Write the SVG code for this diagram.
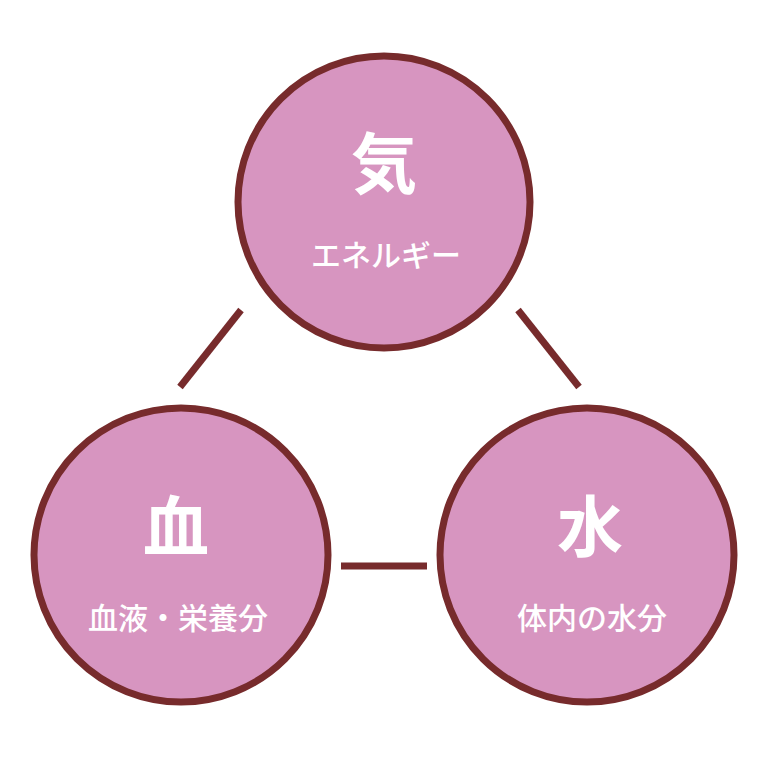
<svg xmlns="http://www.w3.org/2000/svg" width="768" height="768" viewBox="0 0 768 768">
<style>
.c{fill:#d795c0;stroke:#772b2c;stroke-width:7}
.l{stroke:#772b2c;stroke-width:7;stroke-linecap:butt}
.t{font-family:"Noto Sans CJK JP",sans-serif;fill:#fff;text-anchor:middle;font-weight:bold;font-size:66px}
.s{font-family:"Noto Sans CJK JP",sans-serif;fill:#fff;text-anchor:middle;font-size:30px;font-weight:500}
</style>
<rect width="768" height="768" fill="#fff"/>
<g id="connectors">
<line class="l" x1="241" y1="310" x2="180" y2="387"/>
<line class="l" x1="518" y1="310" x2="579" y2="387"/>
<line class="l" x1="341" y1="566" x2="427" y2="566"/>
</g>
<g id="ki"><circle class="c" cx="384" cy="202" r="146"/><text class="t" x="384" y="188">気</text><text class="s" x="386" y="266">エネルギー</text></g>
<g id="ketsu"><circle class="c" cx="181" cy="555" r="147"/><text class="t" x="176" y="551">血</text><text class="s" x="178" y="629">血液・栄養分</text></g>
<g id="sui"><circle class="c" cx="587" cy="555" r="147"/><text class="t" x="590" y="551">水</text><text class="s" x="592" y="629">体内の水分</text></g>
</svg>
